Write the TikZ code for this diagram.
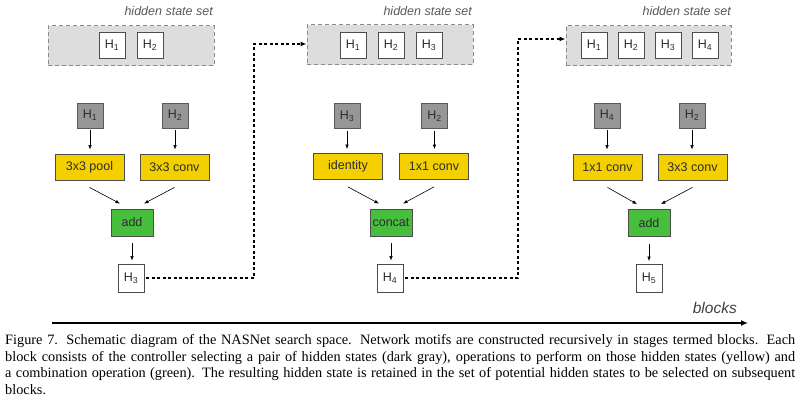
\documentclass[tikz,border=0pt]{standalone}
\usepackage{fontspec}
\setmainfont{Liberation Sans}
\newfontfamily\capfont{Liberation Serif}
\usetikzlibrary{arrows.meta,calc}
\definecolor{ybox}{RGB}{244,208,0}
\definecolor{gbox}{RGB}{72,190,62}
\definecolor{dbox}{RGB}{150,150,150}
\definecolor{setfill}{RGB}{221,221,221}
\definecolor{txt}{RGB}{45,45,45}
\begin{document}
\begin{tikzpicture}[x=1pt,y=-1pt,
  base/.style={draw=black!70, line width=0.8pt, inner sep=0, font=\fontsize{12.5}{14}\selectfont, text=txt},
  hbox/.style={base, fill=white, minimum width=26pt, minimum height=26pt},
  dkbox/.style={base, fill=dbox, draw=black!65, minimum width=26pt, minimum height=25pt},
  opbox/.style={base, fill=ybox, minimum width=69pt, minimum height=26pt},
  cbbox/.style={base, fill=gbox, minimum width=42pt, minimum height=27pt},
  setbox/.style={draw=black!45, dash pattern=on 4pt off 3pt, line width=1pt, fill=setfill, minimum height=40pt, inner sep=0},
  arr/.style={-{Latex[length=4.5pt,width=3.5pt]}, line width=0.6pt, black},
  link/.style={-{Latex[length=6pt,width=5pt]}, line width=1.3pt, dash pattern=on 3pt off 2.5pt},
  settitle/.style={font=\fontsize{12.5}{14}\selectfont\itshape, text=black!65, anchor=base east, inner sep=0}
]
\useasboundingbox (0,0) rectangle (800,403);

% ---------- panel 1 ----------
\node[setbox, minimum width=166pt] (s1) at (131,46) {};
\node[settitle] (t1) at (213,16) {hidden state set};
\node[hbox] (s1a) at (112,45) {H\textsubscript{1}};
\node[hbox] (s1b) at (150,45) {H\textsubscript{2}};
\node[dkbox] (d1a) at (90,115.5) {H\textsubscript{1}};
\node[dkbox] (d1b) at (175,115.5) {H\textsubscript{2}};
\node[opbox] (o1a) at (89.5,167) {3x3 pool};
\node[opbox] (o1b) at (174.5,167) {3x3 conv};
\node[cbbox] (c1) at (132,222.5) {add};
\node[hbox, minimum height=28pt] (r1) at (131,278) {H\textsubscript{3}};
\draw[arr, shorten <=2pt, shorten >=4pt] (d1a.south) -- (d1a.south |- o1a.north);
\draw[arr, shorten <=2pt, shorten >=4pt] (d1b.south) -- (d1b.south |- o1b.north);
\draw[arr] ([yshift=-7pt]o1a.south) -- ([xshift=-12pt,yshift=5pt]c1.north);
\draw[arr] ([yshift=-7pt]o1b.south) -- ([xshift=12pt,yshift=5pt]c1.north);
\draw[arr, shorten <=7pt, shorten >=3pt] (c1.south) -- (c1.south |- r1.north);

% ---------- panel 2 ----------
\node[setbox, minimum width=166pt] (s2) at (390,45) {};
\node[settitle] (t2) at (472,16) {hidden state set};
\node[hbox] (s2a) at (353,45) {H\textsubscript{1}};
\node[hbox] (s2b) at (391,45) {H\textsubscript{2}};
\node[hbox] (s2c) at (429,45) {H\textsubscript{3}};
\node[dkbox] (d2a) at (347,116) {H\textsubscript{3}};
\node[dkbox] (d2b) at (434.5,116) {H\textsubscript{2}};
\node[opbox] (o2a) at (348,166.5) {identity};
\node[opbox] (o2b) at (434,166.5) {1x1 conv};
\node[cbbox] (c2) at (391,222.5) {concat};
\node[hbox, minimum height=28pt] (r2) at (390,278) {H\textsubscript{4}};
\draw[arr, shorten <=2pt, shorten >=4pt] (d2a.south) -- (d2a.south |- o2a.north);
\draw[arr, shorten <=2pt, shorten >=4pt] (d2b.south) -- (d2b.south |- o2b.north);
\draw[arr] ([yshift=-7pt]o2a.south) -- ([xshift=-12pt,yshift=5pt]c2.north);
\draw[arr] ([yshift=-7pt]o2b.south) -- ([xshift=12pt,yshift=5pt]c2.north);
\draw[arr, shorten <=7pt, shorten >=3pt] (c2.south) -- (c2.south |- r2.north);

% ---------- panel 3 ----------
\node[setbox, minimum width=165pt] (s3) at (648.5,46) {};
\node[settitle] (t3) at (731,16) {hidden state set};
\node[hbox] (s3a) at (594,45.5) {H\textsubscript{1}};
\node[hbox] (s3b) at (631,45.5) {H\textsubscript{2}};
\node[hbox] (s3c) at (668,45.5) {H\textsubscript{3}};
\node[hbox] (s3d) at (705,45.5) {H\textsubscript{4}};
\node[dkbox] (d3a) at (607,115.5) {H\textsubscript{4}};
\node[dkbox] (d3b) at (692,115.5) {H\textsubscript{2}};
\node[opbox] (o3a) at (607.5,167) {1x1 conv};
\node[opbox] (o3b) at (692.5,167) {3x3 conv};
\node[cbbox] (c3) at (649,223) {add};
\node[hbox, minimum height=28pt] (r3) at (649,278.5) {H\textsubscript{5}};
\draw[arr, shorten <=2pt, shorten >=4pt] (d3a.south) -- (d3a.south |- o3a.north);
\draw[arr, shorten <=2pt, shorten >=4pt] (d3b.south) -- (d3b.south |- o3b.north);
\draw[arr] ([yshift=-7pt]o3a.south) -- ([xshift=-12pt,yshift=5pt]c3.north);
\draw[arr] ([yshift=-7pt]o3b.south) -- ([xshift=12pt,yshift=5pt]c3.north);
\draw[arr, shorten <=7pt, shorten >=3pt] (c3.south) -- (c3.south |- r3.north);

% ---------- links between blocks ----------
\coordinate (k1) at (254,44);
\coordinate (k2) at (518,39);
\draw[link, shorten <=2pt] (r1.east) -| (k1) -- (k1 -| s2.west);
\draw[link, shorten <=2pt] (r2.east) -| (k2) -- (k2 -| s3.west);

% ---------- blocks axis ----------
\coordinate (a0) at (52,323);
\coordinate (a1) at (748,323);
\draw[-{Latex[length=7pt,width=6pt]}, line width=2pt] (a0) -- (a1);
\node[font=\fontsize{15.5}{18}\selectfont\itshape, text=black!75, anchor=base east, inner sep=0] (bl) at (737,313) {blocks};

% ---------- caption ----------
\node[anchor=north west, inner sep=0, text width=790pt, align=justify,
      font=\capfont\fontsize{14.3}{16.6}\selectfont] (cap) at (5,334.5)
{Figure 7. Schematic diagram of the NASNet search space. Network motifs are constructed recursively in stages termed blocks. Each\linebreak
block consists of the controller selecting a pair of hidden states (dark gray), operations to perform on those hidden states (yellow) and\linebreak
a combination operation (green). The resulting hidden state is retained in the set of potential hidden states to be selected on subsequent\linebreak
blocks.};
\end{tikzpicture}
\end{document}
